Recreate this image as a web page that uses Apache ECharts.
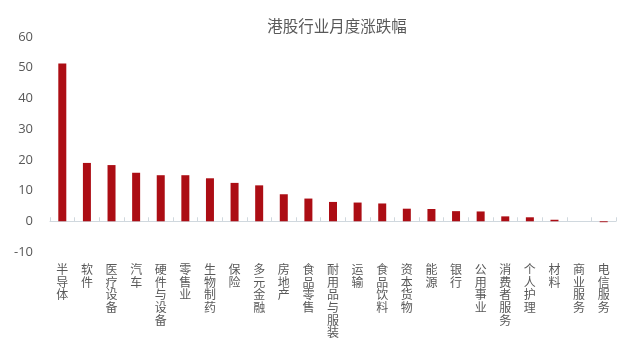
<!DOCTYPE html>
<html><head><meta charset="utf-8">
<script src="https://cdn.jsdelivr.net/npm/echarts@6/dist/echarts.min.js"></script>
<style>html,body{margin:0;padding:0;background:#fff}#c{width:640px;height:357px}</style>
</head><body><div id="c"></div>
<script>
const titleText = '港股行业月度涨跌幅';
const categories = ['半导体','软件','医疗设备','汽车','硬件与设备','零售业','生物制药','保险','多元金融','房地产','食品零售','耐用品与服装','运输','食品饮料','资本货物','能源','银行','公用事业','消费者服务','个人护理','材料','商业服务','电信服务'];
const values = [51.4,19.0,18.3,15.8,15.0,15.0,14.0,12.5,11.7,8.8,7.4,6.3,6.1,5.8,4.1,4.0,3.3,3.2,1.6,1.3,0.5,0.0,-0.3];
const yMin = -10, yMax = 60, yStep = 10;
const chart = echarts.init(document.getElementById('c'));
chart.setOption({
  animation:false,
  backgroundColor:'#fff',
  title:{text:titleText,left:332,top:13,textAlign:'center',textStyle:{fontSize:15.5,fontWeight:'normal',color:'#595959',fontFamily:'"Noto Sans CJK SC"'}},
  grid:{left:50,right:24,top:37,bottom:105,containLabel:false,outerBoundsMode:'none'},
  xAxis:{type:'category',data:categories,
    axisLine:{onZero:true,lineStyle:{color:'#d0d8de',width:1}},
    axisTick:{show:true,length:4,inside:true,lineStyle:{color:'#d0d8de'}},
    axisLabel:{interval:0,margin:11,color:'#595959',fontSize:12,lineHeight:12.7,fontFamily:'"Noto Sans CJK SC"',
      formatter:v=>v.split('').join('\n'),verticalAlign:'top'}},
  yAxis:{type:'value',min:yMin,max:yMax,interval:yStep,
    axisLine:{show:false},axisTick:{show:false},splitLine:{show:false},
    axisLabel:{color:'#595959',fontSize:13,margin:17,fontFamily:'"Open Sans"'}},
  series:[{type:'bar',data:values,barWidth:8,itemStyle:{color:'#ac0d14'}}]
});
</script></body></html>
